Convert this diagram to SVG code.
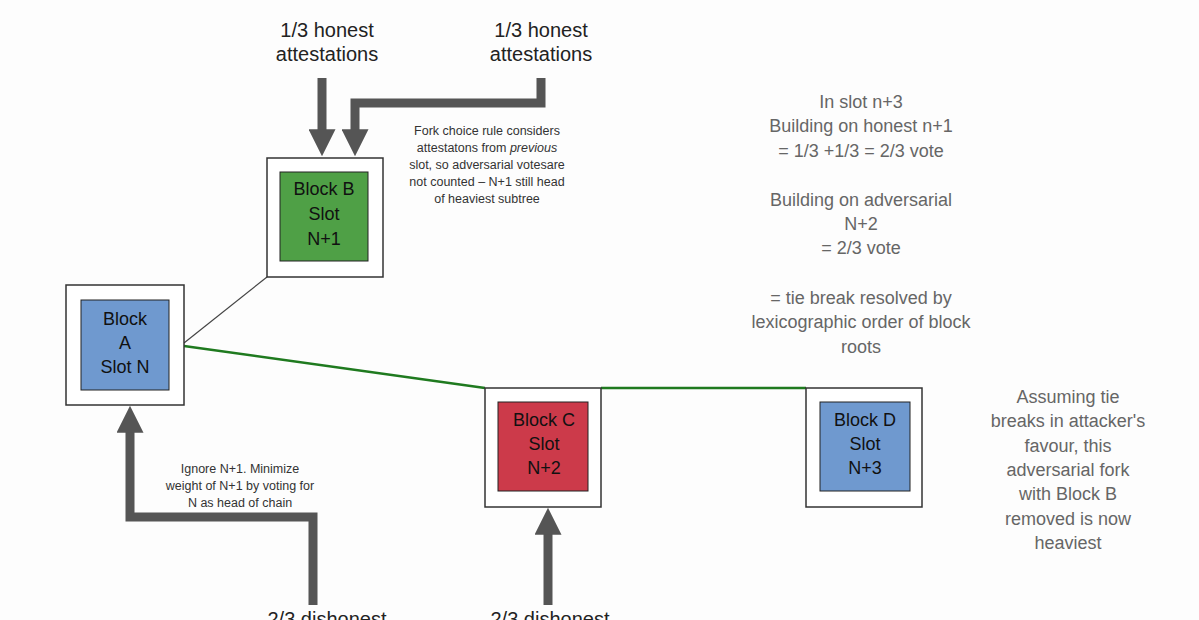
<svg xmlns="http://www.w3.org/2000/svg" width="1199" height="620" viewBox="0 0 1199 620">
<style>
text{font-family:"Liberation Sans",Arial,sans-serif;text-anchor:middle}
.o{fill:#fff;stroke:#333;stroke-width:1.5}
.lbl{font-size:18px;fill:#111}
.big{font-size:20px;fill:#222}
.note{font-size:12.5px;fill:#333}
.side{font-size:18px;fill:#666}
.arr{fill:none;stroke:#555;stroke-width:9}
</style>
<defs><marker id="h" markerWidth="3" markerHeight="3" refX="1.2" refY="1.5" orient="auto" markerUnits="strokeWidth"><path d="M0,0L3,1.5L0,3z" fill="#555"/></marker></defs>
<rect width="1199" height="620" fill="#fdfdfd"/>
<g id="connectors">
<line x1="267" y1="277" x2="184" y2="343" stroke="#444" stroke-width="1.2"/>
<polyline points="184,346 485,388" fill="none" stroke="#1f7a1f" stroke-width="2.5"/>
<line x1="601" y1="388" x2="806" y2="388" stroke="#1f7a1f" stroke-width="2.5"/>
<path class="arr" d="M322,78V140" marker-end="url(#h)"/>
<path class="arr" d="M541,78V103H355V140" marker-end="url(#h)"/>
<path class="arr" d="M313,605V517H130V422" marker-end="url(#h)"/>
<path class="arr" d="M548,605V524" marker-end="url(#h)"/>
</g>
<g id="blockB"><rect class="o" x="267" y="158" width="116" height="119"/><rect x="280" y="172" width="88" height="89" fill="#4fa046" stroke="#222"/>
<text class="lbl" x="324" y="195">Block B</text><text class="lbl" x="324" y="220">Slot</text><text class="lbl" x="324" y="245">N+1</text></g>
<g id="blockA"><rect class="o" x="66" y="285" width="118" height="120"/><rect x="81" y="300" width="88" height="90" fill="#6f99cf" stroke="#222"/>
<text class="lbl" x="125" y="325">Block</text><text class="lbl" x="125" y="349">A</text><text class="lbl" x="125" y="373">Slot N</text></g>
<g id="blockC"><rect class="o" x="485" y="388" width="116" height="119"/><rect x="498" y="402" width="90" height="89" fill="#cc3a4a" stroke="#222"/>
<text class="lbl" x="544" y="426">Block C</text><text class="lbl" x="544" y="450">Slot</text><text class="lbl" x="544" y="474">N+2</text></g>
<g id="blockD"><rect class="o" x="806" y="388" width="116" height="119"/><rect x="820" y="402" width="90" height="89" fill="#6f99cf" stroke="#222"/>
<text class="lbl" x="865" y="426">Block D</text><text class="lbl" x="865" y="450">Slot</text><text class="lbl" x="865" y="474">N+3</text></g>
<g id="labels">
<text class="big" x="327" y="37">1/3 honest</text><text class="big" x="327" y="61">attestations</text>
<text class="big" x="541" y="37">1/3 honest</text><text class="big" x="541" y="61">attestations</text>
<text class="note" x="487" y="135">Fork choice rule considers</text>
<text class="note" x="487" y="152">attestatons from <tspan font-style="italic">previous</tspan></text>
<text class="note" x="487" y="169">slot, so adversarial votesare</text>
<text class="note" x="487" y="186">not counted – N+1 still head</text>
<text class="note" x="487" y="203">of heaviest subtree</text>
<text class="note" x="240" y="473">Ignore N+1. Minimize</text>
<text class="note" x="240" y="490">weight of N+1 by voting for</text>
<text class="note" x="240" y="507">N as head of chain</text>
<text class="big" x="327" y="626">2/3 dishonest</text><text class="big" x="550" y="626">2/3 dishonest</text>
<text class="side" x="861" y="108">In slot n+3</text>
<text class="side" x="861" y="132">Building on honest n+1</text>
<text class="side" x="861" y="157">= 1/3 +1/3 = 2/3 vote</text>
<text class="side" x="861" y="206">Building on adversarial</text>
<text class="side" x="861" y="230">N+2</text>
<text class="side" x="861" y="254">= 2/3 vote</text>
<text class="side" x="861" y="304">= tie break resolved by</text>
<text class="side" x="861" y="328">lexicographic order of block</text>
<text class="side" x="861" y="353">roots</text>
<text class="side" x="1068" y="403">Assuming tie</text>
<text class="side" x="1068" y="427">breaks in attacker's</text>
<text class="side" x="1068" y="452">favour, this</text>
<text class="side" x="1068" y="476">adversarial fork</text>
<text class="side" x="1068" y="500">with Block B</text>
<text class="side" x="1068" y="525">removed is now</text>
<text class="side" x="1068" y="549">heaviest</text>
</g>
</svg>
